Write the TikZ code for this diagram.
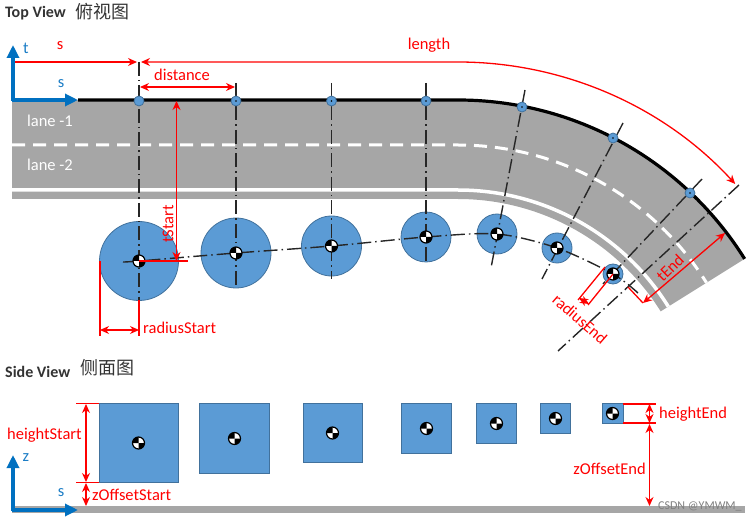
\documentclass[tikz,border=0pt]{standalone}
\usepackage{fontspec}
\setmainfont{Carlito}
\newfontfamily\cjk{Noto Sans CJK SC}
\usetikzlibrary{arrows.meta}
\definecolor{roadgrey}{HTML}{A6A6A6}
\definecolor{axisblue}{HTML}{0070C0}
\definecolor{blobfill}{HTML}{5B9BD5}
\definecolor{blobline}{HTML}{41719C}
\begin{document}
\begin{tikzpicture}[x=1pt,y=1pt,>={Stealth[length=9pt,width=8pt]},font=\fontsize{16.5}{18}\selectfont]
      \tikzstyle{blob}=[circle,draw=blobline,fill=blobfill,line width=0.8pt,inner sep=0pt]
      \tikzstyle{block}=[rectangle,draw=blobline,fill=blobfill,line width=0.8pt,inner sep=0pt]
      \tikzstyle{knot}=[circle,draw=blobline,fill=blobfill,line width=0.8pt,inner sep=0pt,minimum size=10pt]
      \tikzstyle{cog}=[circle,draw=black,fill=white,line width=1.2pt,inner sep=0pt,minimum size=12pt,
        path picture={\fill[black] (path picture bounding box.center) -- ++(90:8pt) arc (90:180:8pt) -- cycle;
        \fill[black] (path picture bounding box.center) -- ++(270:8pt) arc (270:360:8pt) -- cycle;}]
      \tikzstyle{center}=[line width=1.4pt,black!85,dash pattern=on 14pt off 4pt on 1.5pt off 4pt]
      \tikzstyle{dim}=[red,line width=1.3pt]
      \tikzstyle{axis}=[axisblue,line width=3.2pt,-{Stealth[length=13pt,width=12pt,inset=0pt]}]
      \tikzstyle{redlabel}=[red,inner sep=0pt]
      \tikzstyle{bluelabel}=[axisblue!70!blobfill,inner sep=0pt]
      \useasboundingbox (0,-521) rectangle (752,0);

      % road
      \fill[roadgrey] (12,-100) -- (458,-100) arc (90:32:338) -- ++(212:99) arc (32:90:239) -- (12,-199) -- cycle;
      \draw[white,line width=3pt,dash pattern=on 13pt off 8pt] (12,-145) -- (458,-145) arc (90:32:293);
      \draw[white,line width=3.5pt] (12,-190) -- (458,-190) arc (90:32:248);
      \draw[black,line width=3.2pt] (78,-100) -- (458,-100) arc (90:32:338);

      % shapes along the road
      \node [blob,minimum size=79pt] (c1) at (139,-261) {};
      \node [blob,minimum size=70pt] (c2) at (236,-253) {};
      \node [blob,minimum size=60pt] (c3) at (331.5,-246) {};
      \node [blob,minimum size=50pt] (c4) at (426,-237) {};
      \node [blob,minimum size=40pt] (c5) at (497,-234) {};
      \node [blob,minimum size=30pt] (c6) at (557,-248) {};
      \node [blob,minimum size=20pt] (c7) at (613,-274) {};

      \draw[center] (139,-62) -- (139,-300);
      \draw[center] (236,-83) -- (236,-288);
      \draw[center] (331.5,-83) -- (331.5,-279);
      \draw[center] (426,-83) -- (426,-262);
      \draw[center] (525,-90) -- (491,-268);
      \draw[center] (623,-123) -- (542,-279);
      \draw[center] (702,-179) -- (603,-284);
      \draw[center] (739,-185) -- (558,-351);
      \coordinate (spinea) at (123,-262);
      \coordinate (spineb) at (638,-293);
      \draw[center] plot [smooth,tension=0.5] coordinates {(spinea) (c1) (c2) (c3) (c4) (c5) (c6) (c7) (spineb)};

      \node [knot] (k1) at (139,-101) {};
      \node [knot] (k2) at (236,-101) {};
      \node [knot] (k3) at (331.5,-101) {};
      \node [knot] (k4) at (426,-101) {};
      \node [knot] (k5) at (522,-107) {};
      \node [knot] (k6) at (613,-138) {};
      \node [knot] (k7) at (690,-193) {};
      \foreach \k in {k2,k3,k4,k5,k6,k7}
        \fill[black] (\k) circle (0.8);

      \foreach \c in {c1,c2,c3,c4,c5,c6,c7}
        \node [cog] at (\c) {};

      % side view
      \fill[roadgrey] (12,-506) rectangle (745,-513);
      \node [block,minimum width=79pt,minimum height=79pt] (b1) at (138.5,-443) {};
      \node [block,minimum width=70pt,minimum height=70pt] (b2) at (234.5,-438.5) {};
      \node [block,minimum width=59pt,minimum height=59pt] (b3) at (332.5,-433) {};
      \node [block,minimum width=50pt,minimum height=50pt] (b4) at (426.5,-428.5) {};
      \node [block,minimum width=40pt,minimum height=40pt] (b5) at (496.5,-423.5) {};
      \node [block,minimum width=30pt,minimum height=30pt] (b6) at (555.5,-418.5) {};
      \node [block,minimum width=21pt,minimum height=20pt] (b7) at (612.5,-413.5) {};
      \foreach \b in {b1,b2,b3,b4,b5,b6,b7}
        \node [cog,minimum size=12pt] at (\b) {};

      % axes
      \draw[axis] (13,-101) -- (13,-45);
      \draw[axis] (12,-100) -- (78,-100);
      \draw[axis] (13,-511) -- (13,-455);
      \draw[axis] (12,-510) -- (78,-510);

      % dimensions, top view
      \draw[dim,->] (15,-62) -- (137,-62);
      \draw[dim,<->] (141,-62) -- (458,-62) arc (90:42.5:376);
      \draw[dim,<->] (140,-87) -- (235,-87);
      \draw[dim,<->] (176.5,-101) -- (176.5,-261);
      \draw[dim] (139,-261) -- (188,-261);
      \draw[dim] (100,-261) -- (100,-336);
      \draw[dim] (139,-300) -- (139,-336);
      \draw[dim,<->] (100,-330) -- (139,-330);
      \draw[dim,<->] (725,-233) -- (643,-303);
      \draw[dim] (628,-287) -- (643,-303);
      \draw[dim] (605,-267) -- (578,-300);
      \draw[dim] (613,-274) -- (588,-305);
      \draw[dim,<->] (579,-298) -- (589,-304);

      % dimensions, side view
      \draw[dim] (76,-403.5) -- (99,-403.5);
      \draw[dim] (76,-482.5) -- (99,-482.5);
      \draw[dim,<->] (86,-404) -- (86,-482);
      \draw[dim,<->] (86,-483) -- (86,-506);
      \draw[dim] (623,-404) -- (656,-404);
      \draw[dim] (623,-423) -- (656,-423);
      \draw[dim,<->] (649.5,-404) -- (649.5,-423);
      \draw[dim,<->] (649.5,-424) -- (649.5,-506);

      % labels
      \node [anchor=west,inner sep=0pt,font=\fontsize{16}{18}\selectfont\bfseries,black!80] (topview) at (5,-13) {Top View};
      \node [anchor=west,inner sep=0pt,font=\fontsize{18}{20}\selectfont\cjk,black!80] (topcn) at (75,-12) {俯视图};
      \node [anchor=west,inner sep=0pt,font=\fontsize{16}{18}\selectfont\bfseries,black!80] (sideview) at (5,-372) {Side View};
      \node [anchor=west,inner sep=0pt,font=\fontsize{18}{20}\selectfont\cjk,black!80] (sidecn) at (80,-368) {侧面图};
      \node [bluelabel] (tlab) at (26,-48) {t};
      \node [bluelabel] (slab) at (61,-84) {s};
      \node [bluelabel] (zlab) at (26,-458) {z};
      \node [bluelabel] (slabb) at (61,-493) {s};
      \node [redlabel] (sdim) at (60,-46) {s};
      \node [redlabel] (lengthlab) at (429,-45) {length};
      \node [redlabel] (distlab) at (182,-75) {distance};
      \node [white,inner sep=0pt] (lane1) at (50,-121) {lane -1};
      \node [white,inner sep=0pt] (lane2) at (50,-165) {lane -2};
      \node [redlabel,rotate=90] (tstartlab) at (168,-224) {tStart};
      \node [redlabel,anchor=west] (rstartlab) at (143,-328) {radiusStart};
      \node [redlabel,rotate=-41] (rendlab) at (580,-319) {radiusEnd};
      \node [redlabel,rotate=44] (tendlab) at (670,-268) {tEnd};
      \node [redlabel,anchor=west] (hstartlab) at (7,-435) {heightStart};
      \node [redlabel,anchor=west] (zstartlab) at (92,-495) {zOffsetStart};
      \node [redlabel,anchor=west] (hendlab) at (659,-414) {heightEnd};
      \node [redlabel,anchor=east] (zendlab) at (646,-469) {zOffsetEnd};
      \node [black!50,anchor=west,inner sep=0pt,font=\fontsize{12}{14}\selectfont] (mark) at (658,-506) {CSDN @YMWM\_};
    \end{tikzpicture}
\end{document}
